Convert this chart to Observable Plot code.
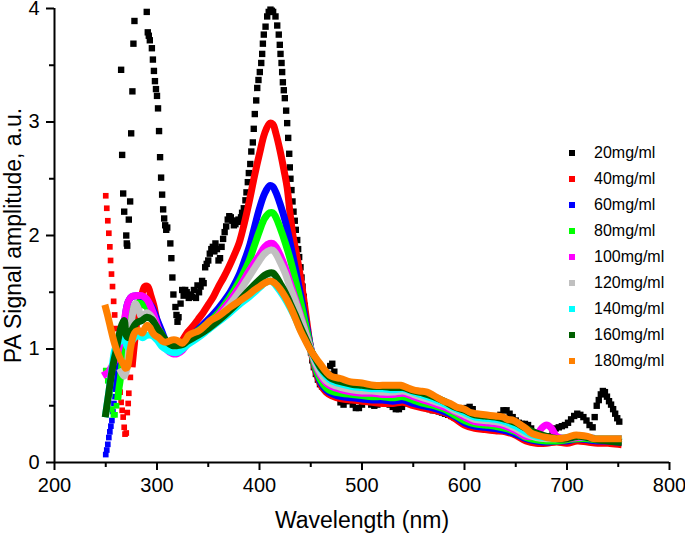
<!DOCTYPE html>
<html><head><meta charset="utf-8">
<script src="https://cdn.jsdelivr.net/npm/d3@7"></script>
<script src="https://cdn.jsdelivr.net/npm/@observablehq/plot@0.6"></script>
<style>
body{margin:0;background:#fff;font-family:"Liberation Sans",Arial,sans-serif;}
#wrap{position:relative;width:685px;height:535px;overflow:hidden;}
#legend{position:absolute;left:569px;top:140px;}
.item{display:flex;align-items:center;height:26.05px;font-size:16px;color:#000;white-space:nowrap;}
.sw{width:6px;height:6px;margin-right:19px;flex:none;}
</style></head>
<body><div id="wrap"><div id="legend"></div></div>
<script>
// ---- Data (wavelength nm, PA amplitude a.u.) ----
const names = ["20mg/ml","40mg/ml","60mg/ml","80mg/ml","100mg/ml","120mg/ml","140mg/ml","160mg/ml","180mg/ml"];
const colors = ["#000000","#ff0000","#0000ff","#00ff00","#ff00ff","#c0c0c0","#00ffff","#005f00","#ff8000"];

const xTicks = [200,300,400,500,600,700,800];
const xMinor = [250,350,450,550,650,750];
const yTicks = [0,1,2,3,4];
const yMinor = [0.5,1.5,2.5,3.5];

const c20 = [[265,3.46],[266,2.71],[267,2.37],[268,2.21],[270,2.00],[270.5,1.93],[271,1.91],[272.5,2.14],[273.8,2.30],[274.8,2.90],[276,3.27],[277,3.69],[278,3.89],
[290,3.97],[291,3.79],[292,3.76],[293,3.72],[295,3.65],[296,3.55],[297,3.45],[298,3.36],[299,3.29],[300,3.23],[301,3.12],[302,2.92],[303,2.69],[304,2.51],[305,2.36],[306,2.23],[307,2.15],[308,2.09],[309,2.05],[310,2.07],[313,1.93],[314,1.80],[315,1.63],[316,1.48],[318,1.37],[319,1.30],[320,1.24],[321,1.28],[323,1.40],[324.6,1.52],[326,1.47],[327.5,1.52],[329,1.50],[331,1.45],[333,1.48],[334.5,1.46],[336,1.52],[338,1.45],[339.5,1.56],[341,1.50],[342.5,1.55],[344,1.60],[345.5,1.58],[347,1.72],[348.5,1.75],[350,1.78],[351.5,1.84],[353,1.88],[354.5,1.90],[356,1.86],[357,1.93],[358.5,1.88],[360,1.78],[361.5,1.80],[363,1.90],[364.5,1.97],[366,2.03],[367.5,2.08],[369,2.14],[370.5,2.17],[372,2.16],[373.5,2.13],[375,2.09],[376.5,2.10],[378,2.13],[379.5,2.14],[381,2.12],[382,2.16],[383,2.20],[384.7,2.24],[386.3,2.31],[387.3,2.38],[388.6,2.47],[389.6,2.55],[391,2.63],[392,2.74],[393.5,2.82],[394.4,2.94],[395.4,3.07],[396.8,3.19],[397.8,3.30],[399,3.37],[400.3,3.44],[401.7,3.52],[402.6,3.60],[403.3,3.69],[404.2,3.77],[405.9,3.84],[407.5,3.93],[409,3.97],[410.7,3.99],[412,3.98],[413.3,3.97],[415.6,3.93],[417.3,3.85],[418.8,3.77],[419.8,3.68],[420.5,3.60],[421.5,3.52],[422.1,3.44],[422.8,3.35],[423.7,3.28],[424.7,3.21],[426,3.10],[427,2.99],[428,2.86],[429,2.72],[429.6,2.60],[430.2,2.50],[431.2,2.40],[432.2,2.30],[433.2,2.21],[434.4,2.13],[435.4,2.05],[436.8,1.96],[437.7,1.88],[438.7,1.81],[440,1.72],[441,1.63],[442,1.55],[443.2,1.46],[444.2,1.38],[445.2,1.30],[446.2,1.22],[447.2,1.15],[448.2,1.08],[449.2,1.02],[450.2,0.97],[451.5,0.90],[453,0.84],[455,0.78],[457,0.73],[459,0.69],
[461,0.67],[463,0.66],[465,0.70],[467,0.78],[469,0.85],[471,0.87],[473,0.80],[475,0.70],[477,0.59],[479,0.53],[482,0.51],[485,0.54],[488,0.55],[491,0.51],[494,0.48],[497,0.48],[500,0.51],[503,0.55],[506,0.54],[509,0.51],[512,0.50],[515,0.51],[518,0.53],[521,0.54],[524,0.53],[527,0.51],[530,0.49],[533,0.47],[536,0.47],[539,0.49],[542,0.52],[545,0.54],[548,0.53],[551,0.52],[554,0.51],[557,0.50],[560,0.49],[563,0.48],[566,0.47],[569,0.46],[572,0.46],[575,0.45],[578,0.44],[581,0.43],[584,0.42],[587,0.41],[590,0.40],[593,0.40],[596,0.41],[599,0.44],[602,0.48],[605,0.49],[608,0.47],[611,0.42],[614,0.39],[617,0.37],[620,0.36],[623,0.36],[626,0.36],[629,0.37],[632,0.38],[635,0.42],[638,0.46],[641,0.46],[644,0.43],[647,0.40],[650,0.37],[653,0.35],[656,0.34],[659,0.34],[662,0.33],[665,0.30],[668,0.26],[671,0.23],[674,0.20],[677,0.19],[680,0.20],[683,0.23],[686,0.27],[689,0.30],[692,0.31],[695,0.32],[698,0.33],[701,0.35],[704,0.38],[707,0.41],[710,0.43],[713,0.42],[716,0.40],[719,0.37],[722,0.33],[725,0.31],[727,0.40],[729,0.50],[731,0.55],[733,0.60],[735,0.63],[737,0.62],[739,0.58],[741,0.54],[743,0.51],[745,0.47],[747,0.43],[749,0.39],[751,0.36]];

const c40 = [[250,2.35],[251,2.24],[252,2.13],[253,2.02],[254,1.90],[254.7,1.78],[255.6,1.66],[256.6,1.55],[257.7,1.42],[258.7,1.30],[259.7,1.18],[260.7,1.06],[262,0.95],[263,0.80],[264,0.62],[265,0.53],[266,0.46],[267,0.40],[268,0.31],[268.8,0.25],[270,0.26],[271,0.44],[271.9,0.52],[272.5,0.61],[274,0.75],[276,0.87],[278,1.05],[280,1.22],[282,1.35],[285,1.47],[288,1.55],[291,1.55],[294,1.47],[297,1.38],[300,1.25],[305,1.12],[310,1.04],[315,1.00],[320,1.02],[325,1.08],[330,1.15],[335,1.20],[340,1.26],[345,1.32],[350,1.39],[355,1.46],[360,1.55],[365,1.63],[370,1.72],[375,1.82],[380,1.93],[385,2.10],[390,2.30],[395,2.52],[400,2.72],[405,2.90],[410,2.99],[413,2.98],[416,2.90],[420,2.75],[424,2.57],[427,2.42],[430,2.18],[433,1.98],[436,1.84],[440,1.63],[443,1.45],[446,1.25],[450,1.00],[455,0.80],[460,0.68],[465,0.62],[470,0.59],[480,0.56],[490,0.55],[500,0.54],[510,0.53],[520,0.52],[530,0.52],[540,0.53],[550,0.50],[560,0.48],[570,0.46],[580,0.44],[590,0.39],[600,0.33],[610,0.30],[620,0.29],[630,0.28],[640,0.27],[650,0.24],[660,0.19],[670,0.17],[680,0.17],[690,0.18],[700,0.17],[710,0.19],[720,0.18],[730,0.17],[740,0.17],[750,0.16]];

const c60 = [[250,0.07],[251,0.11],[252,0.16],[253,0.22],[254,0.27],[255,0.32],[256,0.37],[257,0.45],[258,0.52],[259,0.58],[260,0.65],[261,0.72],[262,0.78],[264,0.88],[266,1.02],[268,1.15],[270,1.35],[272,1.42],[275,1.46],[280,1.47],[285,1.46],[290,1.43],[295,1.37],[300,1.26],[305,1.15],[310,1.04],[315,1.00],[320,1.00],[325,1.03],[330,1.08],[340,1.17],[350,1.26],[360,1.36],[370,1.48],[375,1.56],[380,1.65],[385,1.77],[390,1.90],[395,2.07],[400,2.24],[405,2.37],[410,2.44],[413,2.43],[416,2.38],[420,2.28],[425,2.13],[430,1.93],[435,1.71],[440,1.48],[445,1.25],[450,1.01],[455,0.82],[460,0.70],[465,0.64],[470,0.61],[480,0.58],[490,0.57],[500,0.56],[510,0.55],[520,0.55],[530,0.54],[540,0.55],[550,0.52],[560,0.50],[570,0.48],[580,0.45],[590,0.41],[600,0.35],[610,0.32],[620,0.31],[630,0.30],[640,0.28],[650,0.25],[660,0.21],[670,0.19],[680,0.18],[690,0.19],[700,0.19],[710,0.21],[720,0.20],[730,0.19],[740,0.19],[750,0.18]];

const c80 = [[250,0.81],[252,0.72],[254,0.60],[256,0.47],[257.5,0.42],[259,0.42],[260.5,0.50],[262,0.58],[263,0.66],[264,0.72],[266,0.88],[268,1.00],[270,1.12],[272,1.22],[275,1.32],[280,1.40],[285,1.40],[290,1.37],[295,1.30],[300,1.20],[305,1.12],[310,1.04],[315,1.00],[320,1.01],[325,1.04],[330,1.09],[340,1.16],[350,1.23],[360,1.32],[370,1.44],[380,1.59],[385,1.68],[390,1.78],[395,1.91],[400,2.04],[405,2.15],[410,2.20],[413,2.20],[416,2.16],[420,2.07],[425,1.94],[430,1.79],[435,1.61],[440,1.42],[445,1.21],[450,1.00],[455,0.83],[460,0.72],[465,0.66],[470,0.63],[480,0.61],[490,0.60],[500,0.59],[510,0.58],[520,0.58],[530,0.57],[540,0.58],[550,0.55],[560,0.52],[570,0.50],[580,0.47],[590,0.42],[600,0.37],[610,0.34],[620,0.33],[630,0.32],[640,0.30],[650,0.27],[660,0.22],[670,0.20],[680,0.19],[690,0.19],[700,0.20],[710,0.21],[720,0.21],[730,0.20],[740,0.20],[750,0.19]];

const c100 = [[250,0.78],[253,0.80],[256,0.85],[260,0.92],[264,1.05],[268,1.25],[272,1.42],[275,1.46],[280,1.47],[285,1.47],[290,1.44],[295,1.35],[300,1.22],[305,1.08],[310,0.99],[315,0.96],[320,0.96],[325,0.99],[330,1.05],[340,1.12],[350,1.20],[360,1.30],[370,1.41],[380,1.54],[390,1.69],[400,1.83],[405,1.90],[410,1.93],[413,1.93],[416,1.90],[420,1.83],[425,1.72],[430,1.58],[435,1.44],[440,1.30],[445,1.15],[450,1.00],[455,0.86],[460,0.76],[465,0.70],[470,0.67],[480,0.64],[490,0.62],[500,0.61],[510,0.61],[520,0.60],[530,0.60],[540,0.61],[550,0.58],[560,0.55],[570,0.52],[580,0.49],[590,0.45],[600,0.40],[610,0.36],[620,0.35],[630,0.34],[640,0.32],[650,0.28],[660,0.23],[670,0.24],[675,0.30],[680,0.33],[685,0.30],[690,0.23],[700,0.21],[710,0.22],[720,0.22],[730,0.21],[740,0.21],[750,0.21]];

const c120 = [[265,0.80],[268,0.76],[270,0.80],[273,1.05],[276,1.30],[279,1.40],[282,1.35],[285,1.28],[290,1.32],[295,1.28],[300,1.18],[305,1.10],[310,1.05],[315,1.02],[320,1.02],[325,1.04],[330,1.08],[340,1.14],[350,1.21],[360,1.28],[370,1.38],[380,1.50],[390,1.64],[400,1.78],[405,1.84],[410,1.87],[413,1.87],[416,1.84],[420,1.77],[425,1.67],[430,1.54],[435,1.42],[440,1.28],[445,1.14],[450,1.00],[455,0.87],[460,0.78],[465,0.72],[470,0.69],[480,0.66],[490,0.64],[500,0.63],[510,0.63],[520,0.62],[530,0.62],[540,0.63],[550,0.60],[560,0.57],[570,0.54],[580,0.51],[590,0.46],[600,0.42],[610,0.38],[620,0.37],[630,0.36],[640,0.34],[650,0.30],[660,0.25],[670,0.22],[680,0.21],[690,0.21],[700,0.21],[710,0.23],[720,0.22],[730,0.21],[740,0.21],[750,0.20]];

const c140 = [[250,0.43],[253,0.62],[256,0.82],[259,1.00],[262,1.05],[265,1.08],[268,1.10],[271,1.02],[274,1.05],[278,1.10],[282,1.12],[286,1.10],[290,1.12],[295,1.12],[300,1.08],[305,1.02],[310,0.99],[315,0.97],[320,0.97],[325,1.00],[330,1.04],[340,1.10],[350,1.17],[360,1.24],[370,1.31],[380,1.39],[390,1.46],[400,1.54],[405,1.58],[410,1.60],[413,1.59],[416,1.56],[420,1.51],[425,1.44],[430,1.36],[435,1.27],[440,1.17],[445,1.08],[450,0.99],[455,0.90],[460,0.82],[465,0.76],[470,0.72],[480,0.69],[490,0.67],[500,0.66],[510,0.65],[520,0.65],[530,0.64],[540,0.65],[550,0.62],[560,0.59],[570,0.56],[580,0.52],[590,0.48],[600,0.44],[610,0.40],[620,0.39],[630,0.38],[640,0.36],[650,0.32],[660,0.27],[670,0.23],[680,0.22],[690,0.21],[700,0.22],[710,0.23],[720,0.22],[730,0.21],[740,0.21],[750,0.21]];

const c160 = [[250,0.43],[252,0.55],[254,0.68],[256,0.80],[258,0.90],[260,0.98],[262,1.08],[264,1.16],[266,1.22],[268,1.25],[270,1.12],[272,1.10],[275,1.16],[280,1.23],[285,1.25],[290,1.28],[295,1.26],[300,1.19],[305,1.12],[310,1.06],[315,1.03],[320,1.03],[325,1.04],[330,1.07],[340,1.12],[350,1.18],[360,1.25],[370,1.33],[380,1.42],[390,1.52],[400,1.61],[405,1.65],[410,1.67],[413,1.67],[416,1.64],[420,1.58],[425,1.50],[430,1.40],[435,1.30],[440,1.19],[445,1.09],[450,0.99],[455,0.91],[460,0.83],[465,0.78],[470,0.74],[480,0.71],[490,0.69],[500,0.68],[510,0.67],[520,0.67],[530,0.66],[540,0.66],[550,0.63],[560,0.61],[570,0.58],[580,0.54],[590,0.49],[600,0.46],[610,0.42],[620,0.41],[630,0.40],[640,0.38],[650,0.35],[660,0.30],[670,0.26],[680,0.23],[690,0.21],[700,0.21],[710,0.23],[720,0.22],[730,0.20],[740,0.19],[750,0.18]];

const c180 = [[250,1.36],[252,1.29],[254.6,1.19],[257,1.10],[259.5,1.02],[262,0.96],[264.4,0.91],[267,0.87],[269.3,0.83],[271,0.84],[272.5,0.90],[274,1.00],[275.8,1.08],[278,1.14],[280.7,1.16],[283,1.16],[285.5,1.14],[288,1.18],[290.4,1.21],[293,1.19],[295.3,1.15],[298,1.12],[301.8,1.10],[305,1.07],[308.3,1.06],[312,1.07],[315,1.08],[318,1.08],[321,1.07],[324.6,1.05],[328,1.08],[331,1.12],[335,1.14],[340.8,1.16],[347.3,1.21],[352,1.25],[360,1.29],[366,1.33],[371.7,1.37],[380,1.42],[385,1.45],[391,1.49],[395,1.52],[400,1.55],[405,1.58],[410.7,1.60],[415,1.58],[420,1.53],[425,1.46],[430.2,1.37],[435,1.27],[440,1.16],[445,1.07],[449.8,0.99],[455,0.92],[460,0.86],[465,0.80],[470,0.76],[479,0.74],[489,0.71],[500,0.70],[511.5,0.68],[520,0.68],[530,0.68],[537.6,0.68],[544,0.66],[550,0.64],[556,0.63],[563.6,0.62],[570,0.59],[580,0.54],[586,0.52],[592,0.49],[600,0.47],[606,0.44],[612,0.43],[620,0.42],[630,0.41],[638,0.40],[642,0.38],[648,0.37],[655,0.33],[660,0.30],[665,0.26],[671,0.24],[680,0.22],[690,0.21],[700,0.22],[707,0.24],[712,0.24],[720,0.23],[726,0.21],[730,0.21],[740,0.21],[750,0.21]];

const seriesValues = [c20,c40,c60,c80,c100,c120,c140,c160,c180];
// styling: up to which wavelength a series is drawn as separate square markers
const markerUntil = [Infinity, 277, 262, 264, -Infinity, -Infinity, -Infinity, -Infinity, -Infinity];

const FONT = '"Liberation Sans", Arial, Helvetica, sans-serif';

const marks = [];
seriesValues.forEach((vals, i) => {
  const rows = vals.map(([x, y]) => ({x, y}));
  const lim = markerUntil[i];
  if (lim !== Infinity) {
    marks.push(Plot.line(rows.filter(d => d.x >= lim - 2), {x: "x", y: "y", stroke: colors[i], strokeWidth: 7, strokeLinejoin: "round", strokeLinecap: "square", curve: "catmull-rom"}));
  }
  if (lim > -Infinity) {
    marks.push(Plot.dot(rows.filter(d => d.x <= lim), {x: "x", y: "y", symbol: "square", r: i === 0 ? 3.6 : 3.2, fill: colors[i], stroke: "none"}));
  }
});

const chart = Plot.plot({
  width: 685, height: 535,
  marginLeft: 54, marginRight: 16, marginTop: 8, marginBottom: 73,
  x: {domain: [200, 800]},
  y: {domain: [0, 4]},
  style: {fontFamily: FONT, color: "#000", background: "white", overflow: "visible"},
  marks: [
    ...marks,
    Plot.ruleY([0], {strokeWidth: 2}),
    Plot.ruleX([200], {strokeWidth: 2}),
    Plot.axisX({ticks: xTicks, tickSize: 8, tickPadding: 7, strokeWidth: 2, fontSize: 20, tickFormat: d => String(d), label: null}),
    Plot.axisX({ticks: xMinor, tickSize: 5, strokeWidth: 2, text: null, label: null}),
    Plot.axisX({ticks: [], label: "Wavelength (nm)", labelAnchor: "center", labelArrow: "none", labelOffset: 65, fontSize: 23}),
    Plot.axisY({ticks: yTicks, tickSize: 8, tickPadding: 7, strokeWidth: 2, fontSize: 20, tickFormat: d => String(d), label: null}),
    Plot.axisY({ticks: yMinor, tickSize: 5, strokeWidth: 2, text: null, label: null}),
    Plot.axisY({ticks: [], label: "PA Signal amplitude, a.u.", labelAnchor: "center", labelArrow: "none", labelOffset: 50, fontSize: 23})
  ]
});
document.getElementById("wrap").prepend(chart);

const leg = document.getElementById("legend");
names.forEach((n, i) => {
  const it = document.createElement("div");
  it.className = "item";
  const sw = document.createElement("span");
  sw.className = "sw";
  sw.style.background = colors[i];
  const t = document.createElement("span");
  t.textContent = n;
  it.append(sw, t);
  leg.append(it);
});
</script></body></html>
